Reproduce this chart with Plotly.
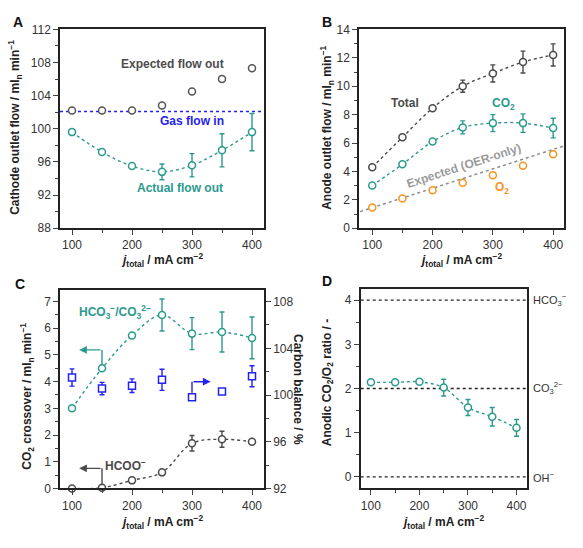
import plotly.graph_objects as go

# current densities (mA cm-2)
j_total = [100, 150, 200, 250, 300, 350, 400]

# A: cathode outlet flow
a_expected = [102.2, 102.2, 102.2, 102.8, 104.5, 106.0, 107.3]
a_gas_in = 102.1
a_actual = [99.6, 97.2, 95.5, 94.8, 95.6, 97.4, 99.6]
a_actual_err = [None, None, None, 0.95, 1.4, 2.0, 2.25]

# B: anode outlet flow
b_total = [4.3, 6.4, 8.45, 10.0, 10.9, 11.7, 12.2]
b_total_err = [None, None, None, 0.43, 0.6, 0.77, 0.78]
b_co2 = [3.0, 4.5, 6.1, 7.1, 7.4, 7.4, 7.05]
b_co2_err = [None, None, None, 0.46, 0.6, 0.65, 0.69]
b_o2 = [1.45, 2.1, 2.68, 3.2, 3.73, 4.39, 5.2]
b_oer_x = [80, 420]
b_oer_y = [1.17, 5.82]

# C: CO2 crossover and carbon balance
c_carbonate = [3.0, 4.5, 5.73, 6.5, 5.8, 5.86, 5.64]
c_carbonate_err = [None, None, None, 0.6, 0.6, 0.75, 0.78]
c_formate = [0.0, 0.02, 0.3, 0.6, 1.69, 1.84, 1.75]
c_formate_err = [None, None, None, None, 0.29, 0.3, None]
c_balance = [101.5, 100.55, 100.8, 101.3, 99.8, 100.3, 101.6]
c_balance_err = [0.74, 0.53, 0.58, 0.9, None, None, 0.9]

# D: anodic CO2/O2 ratio
d_ratio = [2.14, 2.14, 2.15, 2.02, 1.57, 1.36, 1.11]
d_ratio_err = [None, None, None, 0.19, 0.18, 0.21, 0.19]
d_ref_vals = [4, 2, 0]
d_ref_labels = ["HCO<sub>3</sub><sup>\u2212</sup>", "CO<sub>3</sub><sup>2\u2212</sup>", "OH<sup>\u2212</sup>"]

TEAL = "#2a9a8e"
GRAY = "#4a4a4a"
LGRAY = "#9a9a9a"
BLUE = "#2323f0"
ORANGE = "#f7931e"
FONT = "Liberation Sans"

W, H = 583, 548


def px(x):
    return x / W


def py(y):
    return 1 - y / H


def circles(x, y, color, err=None, line=True, xa="x", ya="y", symbol="circle"):
    tr = go.Scatter(
        x=x, y=y, xaxis=xa, yaxis=ya,
        mode="lines+markers" if line else "markers",
        line=dict(color=color, width=1.4, dash="dot", shape="spline"),
        marker=dict(symbol=symbol, size=7, color="white", line=dict(color=color, width=1.5)),
        showlegend=False, cliponaxis=False,
    )
    if err is not None:
        tr.error_y = dict(type="data", array=err, color=color, thickness=1.4, width=2.5)
    return tr


fig = go.Figure()

# panel A
fig.add_trace(go.Scatter(x=[80, 420], y=[a_gas_in, a_gas_in], mode="lines",
                         line=dict(color=BLUE, width=1.5, dash="dot"), showlegend=False))
fig.add_trace(circles(j_total, a_expected, "#555555", line=False))
fig.add_trace(circles(j_total, a_actual, TEAL, err=a_actual_err))

# panel B
fig.add_trace(go.Scatter(x=b_oer_x, y=b_oer_y, xaxis="x2", yaxis="y2", mode="lines",
                         line=dict(color="#8c8c8c", width=1.5, dash="dot"), showlegend=False))
fig.add_trace(circles(j_total, b_total, GRAY, err=b_total_err, xa="x2", ya="y2"))
fig.add_trace(circles(j_total, b_co2, TEAL, err=b_co2_err, xa="x2", ya="y2"))
fig.add_trace(circles(j_total, b_o2, ORANGE, line=False, xa="x2", ya="y2"))

# panel C
fig.add_trace(circles(j_total, c_carbonate, TEAL, err=c_carbonate_err, xa="x3", ya="y3"))
fig.add_trace(circles(j_total, c_formate, GRAY, err=c_formate_err, xa="x3", ya="y3"))
fig.add_trace(circles(j_total, c_balance, BLUE, err=c_balance_err, line=False,
                      xa="x3", ya="y5", symbol="square"))

# panel D
for v in d_ref_vals:
    fig.add_trace(go.Scatter(x=[79, 421], y=[v, v], xaxis="x4", yaxis="y4", mode="lines",
                             line=dict(color="#222222", width=1.3, dash="dot"), showlegend=False))
fig.add_trace(circles(j_total, d_ratio, TEAL, err=d_ratio_err, xa="x4", ya="y4"))

tickfont = dict(family=FONT, size=12, color="#333333")


def xax(domain, anchor, rng):
    return dict(domain=domain, anchor=anchor, range=rng, tickvals=[100, 200, 300, 400],
                ticks="outside", ticklen=5, tickwidth=1.3, showline=True, linewidth=1.5,
                linecolor="#222222", mirror=True, showgrid=False, zeroline=False,
                minor=dict(ticks="outside", ticklen=3, dtick=50, tick0=100, tickwidth=1.1),
                tickfont=tickfont)


def yax(domain, anchor, rng, dtick, minor, **kw):
    d = dict(domain=domain, anchor=anchor, range=rng, dtick=dtick, tick0=0,
             ticks="outside", ticklen=5, tickwidth=1.3, showline=True, linewidth=1.5,
             linecolor="#222222", mirror=True, showgrid=False, zeroline=False,
             minor=dict(ticks="outside", ticklen=3, dtick=minor, tickwidth=1.1),
             tickfont=tickfont)
    d.update(kw)
    return d


xa_dom = [px(60), px(264)]
xb_dom = [px(359), px(564)]
xd_dom = [px(360.7), px(526.7)]
top_dom = [py(227), py(23)]
bot_dom = [py(494), py(290)]

fig.update_layout(
    width=W, height=H, margin=dict(l=0, r=0, t=0, b=0),
    paper_bgcolor="white", plot_bgcolor="white",
    xaxis=xax(xa_dom, "y", [80, 420]),
    yaxis=yax(top_dom, "x", [88, 112], 4, 2),
    xaxis2=xax(xb_dom, "y2", [78, 418]),
    yaxis2=yax(top_dom, "x2", [0, 14], 2, 1),
    xaxis3=xax(xa_dom, "y3", [80, 420]),
    yaxis3=yax(bot_dom, "x3", [0, 7.45], 1, 0.5),
    xaxis4=xax(xd_dom, "y4", [79, 421]),
    yaxis4=yax([py(494), py(289)], "x4", [-0.26, 4.26], 1, 0.5),
    yaxis5=yax(bot_dom, "x3", [92, 109.03], 4, 2, overlaying="y3", side="right", mirror=False),
)

ann = []


def label(text, x, y, color, size=12, angle=0, xref="paper", yref="paper", xanchor="center", weight="bold"):
    ann.append(dict(text=text, x=x, y=y, xref=xref, yref=yref, showarrow=False, textangle=angle,
                    xanchor=xanchor, yanchor="middle",
                    font=dict(family=FONT, size=size, color=color, weight=weight)))


# panel letters
label("A", px(18), py(15), "#111111", size=14)
label("B", px(327), py(15), "#111111", size=14)
label("C", px(20), py(284), "#111111", size=14)
label("D", px(327), py(281), "#111111", size=14)

# axis titles
xtitle = "<i>j</i><sub>total</sub> / mA cm<sup>\u22122</sup>"
label(xtitle, px(162), py(259.5), "#222222")
label(xtitle, px(461.5), py(259.5), "#222222")
label(xtitle, px(162), py(528.5), "#222222")
label(xtitle, px(443.7), py(528.5), "#222222")
label("Cathode outlet flow / ml<sub>n</sub> min<sup>\u22121</sup>", px(15), py(124), "#222222", angle=-90)
label("Anode outlet flow / ml<sub>n</sub> min<sup>\u22121</sup>", px(327), py(124), "#222222", angle=-90)
label("CO<sub>2</sub> crossover / ml<sub>n</sub> min<sup>\u22121</sup>", px(27), py(400), "#222222", angle=-90)
label("Carbon balance / %", px(298), py(392), "#222222", angle=90)
label("Anodic CO<sub>2</sub>/O<sub>2</sub> ratio / -", px(328), py(386), "#222222", angle=-90)

# series labels
label("Expected flow out", px(172), py(59), "#4d4d4d")
label("Gas flow in", px(192), py(117), BLUE)
label("Actual flow out", px(180), py(186), TEAL)
label("Total", px(405), py(99), GRAY)
label("CO<sub>2</sub>", px(503), py(100), TEAL)
label("Expected (OER-only)", px(463), py(163), LGRAY, angle=-18)
label("O<sub>2</sub>", px(502), py(186), ORANGE)
label("HCO<sub>3</sub><sup>\u2212</sup>/CO<sub>3</sub><sup>2\u2212</sup>", px(115), py(313), TEAL)
label("HCOO<sup>\u2212</sup>", px(125), py(470), GRAY)
for v, t in zip(d_ref_vals, d_ref_labels):
    label(t, px(531), v, "#333333", size=11, xref="paper", yref="y4", xanchor="left", weight="normal")

# bent arrows in panel C
arrow_teal = dict(x0=150, y0=4.62, y1=5.19, tip=112)
arrow_gray = dict(x0=150, y0=0.12, y1=0.75, tip=112)
arrow_blue = dict(x0=300, y0=100.2, y1=101.14, tip=331)

for a, col, ya in [(arrow_teal, TEAL, "y3"), (arrow_gray, GRAY, "y3"), (arrow_blue, BLUE, "y5")]:
    fig.add_shape(type="line", xref="x3", yref=ya, x0=a["x0"], x1=a["x0"], y0=a["y0"], y1=a["y1"],
                  line=dict(color=col, width=1.4))
    ann.append(dict(x=a["tip"], y=a["y1"], ax=a["x0"], ay=a["y1"], xref="x3", yref=ya,
                    axref="x3", ayref=ya, showarrow=True, arrowhead=2, arrowsize=1.1,
                    arrowwidth=1.4, arrowcolor=col, text=""))

fig.update_layout(annotations=ann)

# drop the page's default body margin so the figure sits at the top-left corner
fig.write_html("out.html", config={"displayModeBar": False},
               post_script="document.body.style.margin='0';")
